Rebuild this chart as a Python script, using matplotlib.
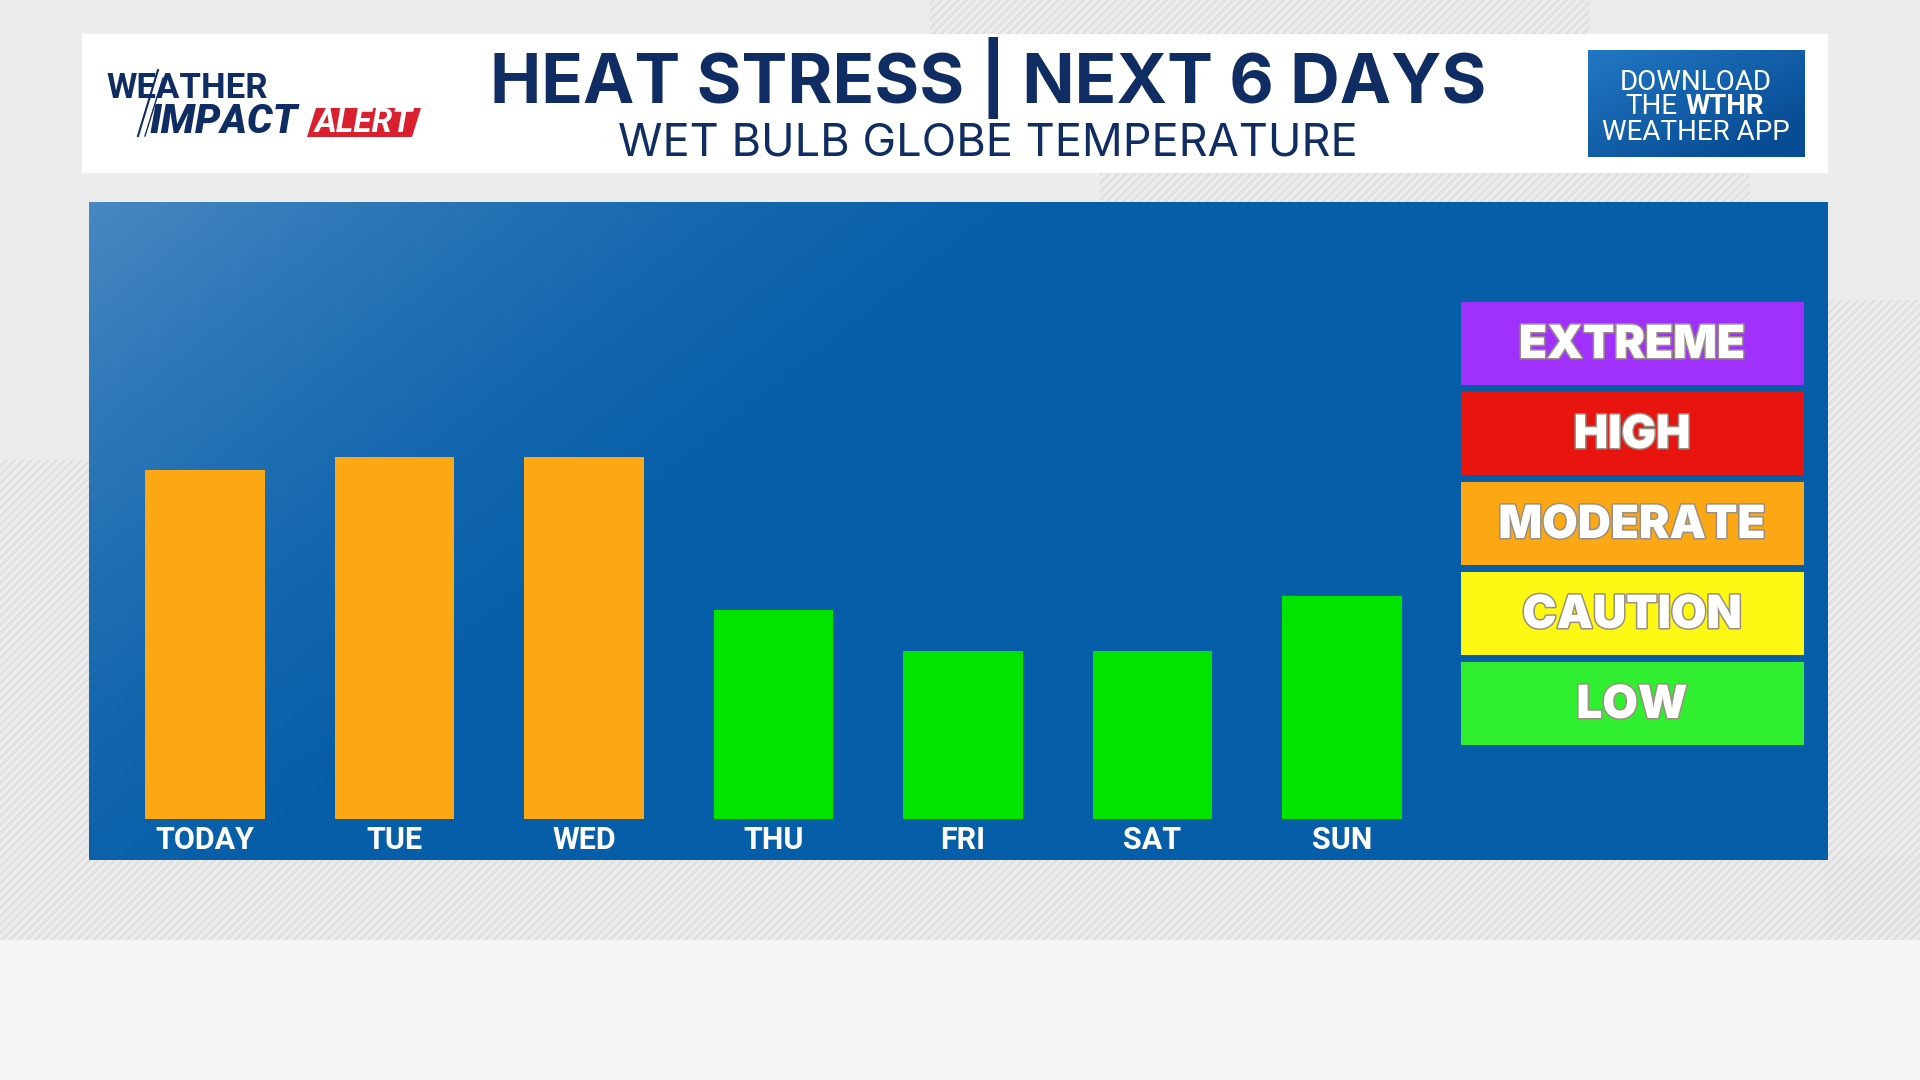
import numpy as np
import matplotlib
matplotlib.use("Agg")
import matplotlib.pyplot as plt
from matplotlib.patches import Rectangle, Polygon
import matplotlib.patheffects as pe

# data
days = ["TODAY", "TUE", "WED", "THU", "FRI", "SAT", "SUN"]
stress = [56.5, 58.7, 58.7, 33.9, 27.2, 27.2, 36.1]   # bar height, 0-100 of the panel
level = ["MODERATE", "MODERATE", "MODERATE", "LOW", "LOW", "LOW", "LOW"]
levels = ["EXTREME", "HIGH", "MODERATE", "CAUTION", "LOW"]
level_colors = ["#a030fc", "#e81410", "#fca814", "#fcf814", "#30ee30"]
bar_colors = {"MODERATE": "#fca814", "LOW": "#00e400"}

NAVY = "#0f2d62"
W, H = 1920, 1080
WIDE = ["Inter", "DejaVu Sans"]

plt.rcParams["font.family"] = ["Roboto", "DejaVu Sans"]
plt.rcParams["hatch.color"] = "#dcdcdc"
plt.rcParams["hatch.linewidth"] = 1.6

fig = plt.figure(figsize=(19.2, 10.8), dpi=100)
fig.patch.set_facecolor("#ececec")

bg = fig.add_axes([0, 0, 1, 1])
bg.axis("off")

# light lower band and striped areas
bg.add_patch(Rectangle((0, 940), W, 140, facecolor="#f5f5f5", edgecolor="none", zorder=0))
for (x, y, w, h) in [(0, 860, W, 80), (0, 460, 89, 400), (1828, 300, 92, 640),
                     (930, 0, 660, 34), (1100, 173, 650, 29)]:
    bg.add_patch(Rectangle((x, y), w, h, facecolor="none", edgecolor="#dedede",
                           hatch="////", linewidth=0, zorder=0.5))

# header
bg.add_patch(Rectangle((82, 34), 1746, 139, facecolor="white", edgecolor="none", zorder=1))
bg.text(988, 78, "HEAT STRESS | NEXT 6 DAYS", ha="center", va="center",
        fontsize=49.5, fontweight="bold", family=WIDE, color=NAVY, zorder=3)
bg.text(988, 143, "WET BULB GLOBE TEMPERATURE", ha="center", va="center",
        fontsize=32.5, family=WIDE, color=NAVY, zorder=3)

# logo
bg.text(106, 88, "WEATHER", ha="left", va="center", fontsize=25, fontweight="bold",
        color=NAVY, zorder=3)
bg.text(149, 122, "IMPACT", ha="left", va="center", fontsize=29, fontweight="black",
        style="italic", color=NAVY, zorder=3)
bg.plot([138, 158], [136, 70], color=NAVY, lw=1.5, zorder=3)
bg.plot([145, 163], [136, 78], color=NAVY, lw=1.0, zorder=3)
bg.add_patch(Polygon([(316, 108), (421, 108), (412, 137), (307, 137)], closed=True,
                     facecolor="#d9202e", edgecolor="none", zorder=2))
bg.text(364, 123, "ALERT", ha="center", va="center", fontsize=24, fontweight="bold",
        style="italic", color="white", zorder=3)

# app box
gx = np.linspace(0, 1, 200)
gy = np.linspace(0, 1, 100)
t = np.clip((gx[None, :] * 0.6 + gy[:, None] * 0.6), 0, 1)
c0 = np.array([0x22, 0x78, 0xc4]) / 255
c1 = np.array([0x08, 0x4c, 0x94]) / 255
img = c0[None, None, :] * (1 - t[..., None]) + c1[None, None, :] * t[..., None]
bg.imshow(img, extent=(1588, 1805, 157, 50), aspect="auto", zorder=2)
bg.text(1696, 82, "DOWNLOAD", ha="center", va="center", fontsize=20, color="white", zorder=3)
bg.text(1677, 107, "THE", ha="right", va="center", fontsize=20, color="white", zorder=3)
bg.text(1686, 107, "WTHR", ha="left", va="center", fontsize=20, fontweight="bold",
        color="white", zorder=3)
bg.text(1696, 132, "WEATHER APP", ha="center", va="center", fontsize=20, color="white", zorder=3)

# blue panel with lighter top-left corner
px0, px1, py0, py1 = 89, 1828, 202, 860
xx = np.arange(0, px1 - px0, 4)
yy = np.arange(0, py1 - py0, 4)
tt = np.clip(1 - (xx[None, :] * 0.8 + yy[:, None]) / 850, 0, 1) ** 1.6
base = np.array([0x06, 0x5e, 0xa8]) / 255
light = np.array([0x48, 0x88, 0xc2]) / 255
pimg = base[None, None, :] * (1 - tt[..., None]) + light[None, None, :] * tt[..., None]
bg.imshow(pimg, extent=(px0, px1, py1, py0), aspect="auto", zorder=1)

# legend of stress levels
for i, (name, col) in enumerate(zip(levels, level_colors)):
    y = 302 + i * 90
    bg.add_patch(Rectangle((1461, y), 343, 83, facecolor=col, edgecolor="none", zorder=2))
    bg.text(1632, y + 44, name, ha="center", va="center", fontsize=33, fontweight="black",
            family=WIDE, color="white", zorder=3,
            path_effects=[pe.Stroke(linewidth=2.2, foreground="#9a8f80"), pe.Normal()])

bg.set_xlim(0, W)
bg.set_ylim(H, 0)

# bars
ax = fig.add_axes([px0 / W, 1 - 819 / H, (px1 - px0) / W, (819 - py0) / H])
ax.patch.set_alpha(0)
x = np.arange(len(days))
ax.bar(x, stress, width=0.628, color=[bar_colors[l] for l in level], zorder=2)
ax.set_xlim((89 - 205) / 189.5, (1828 - 205) / 189.5)
ax.set_ylim(0, 100)
ax.set_xticks(x)
ax.set_xticklabels(days, fontsize=22, fontweight="bold", color="white")
ax.tick_params(axis="x", length=0, pad=4)
ax.set_yticks([])
for s in ax.spines.values():
    s.set_visible(False)

fig.savefig("out.png", dpi=100, facecolor=fig.get_facecolor())
